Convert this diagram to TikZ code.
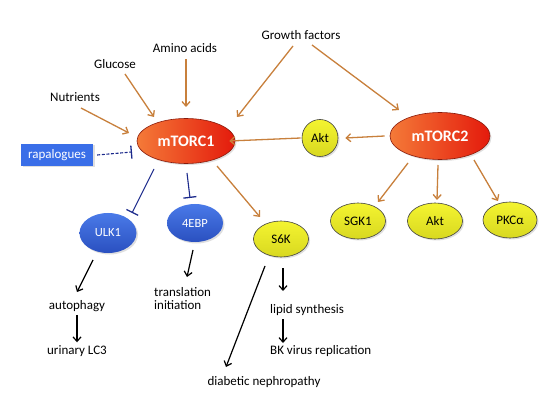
\documentclass[tikz,border=0pt]{standalone}
\usepackage{fontspec}
\setmainfont{Carlito}
\usetikzlibrary{shapes.geometric,arrows.meta,shadows}
\definecolor{arr}{HTML}{C8803C}
\definecolor{inh}{HTML}{1C2A8C}
\definecolor{redL}{HTML}{F47A38}
\definecolor{redR}{HTML}{E41A0C}
\definecolor{redB}{HTML}{8A1A0A}
\definecolor{yelT}{HTML}{F4F430}
\definecolor{yelB}{HTML}{D8D820}
\definecolor{bluT}{HTML}{4A7AE8}
\definecolor{bluB}{HTML}{2A50C0}
\definecolor{boxb}{HTML}{3A6EE8}
\tikzset{
  lbl/.style={font=\fontsize{13}{15}\selectfont, inner sep=1pt},
  lbll/.style={lbl, anchor=west, align=left},
  mtor/.style={ellipse, draw=redB, line width=0.6pt, left color=redL, right color=redR,
     text=white, font=\bfseries\fontsize{16}{18}\selectfont, inner sep=0pt,
     drop shadow={shadow xshift=1.5pt, shadow yshift=-1.5pt, opacity=0.25}},
  yel/.style={ellipse, draw=black!75, line width=0.6pt, top color=yelT, bottom color=yelB,
     font=\fontsize{13}{15}\selectfont, inner sep=0pt,
     drop shadow={shadow xshift=1.5pt, shadow yshift=-1.5pt, opacity=0.25}},
  blu/.style={ellipse, draw=none, top color=bluT, bottom color=bluB, text=white,
     font=\fontsize{12.5}{14}\selectfont, inner sep=0pt,
     drop shadow={shadow xshift=1.5pt, shadow yshift=-1.5pt, opacity=0.25}},
  oarr/.style={draw=arr, line width=1.3pt, -{Straight Barb[length=4.5pt,width=8pt]}},
  barr/.style={draw=black, line width=1.2pt, -{Straight Barb[length=4.5pt,width=8pt]}},
  inhib/.style={draw=inh, line width=1.1pt, -{Bar[width=13pt,line width=1.3pt]}},
}
\begin{document}
\begin{tikzpicture}[x=1pt,y=-1pt]
\useasboundingbox[fill=white] (0,0) rectangle (550,412);
% main complexes
\node[mtor, minimum width=98pt, minimum height=45pt] (m1) at (186,141) {mTORC1};
\node[mtor, minimum width=100pt, minimum height=47pt] (m2) at (440,136) {mTORC2};
\node[yel, minimum width=36pt, minimum height=37pt] (akt1) at (320,138) {Akt};
% inputs
\node[lbl] (nut) at (75,97) {Nutrients};
\node[lbl] (glu) at (115,64) {Glucose};
\node[lbl] (ami) at (185,48) {Amino acids};
\node[lbl] (gf) at (301,35) {Growth factors};
% rapalogues
\node[fill=boxb, text=white, font=\fontsize{13}{15}\selectfont, minimum width=72pt, minimum height=22pt, inner sep=0pt,
  drop shadow={shadow xshift=1.5pt, shadow yshift=-1.5pt, opacity=0.25}] (rap) at (57,155) {rapalogues};
% downstream
\node[blu, minimum width=57pt, minimum height=40pt] (ulk) at (108,233) {ULK1};
\node[blu, minimum width=56pt, minimum height=38pt] (ebp) at (195,223) {4EBP};
\node[yel, minimum width=55pt, minimum height=36pt] (s6k) at (281,239) {S6K};
\node[yel, minimum width=55pt, minimum height=36pt] (sgk) at (358,221) {SGK1};
\node[yel, minimum width=55pt, minimum height=36pt] (akt2) at (435,221) {Akt};
\node[yel, minimum width=54pt, minimum height=36pt] (pkc) at (510,220) {PKCα};
% outputs
\node[lbl] (aut) at (77,306) {autophagy};
\node[lbl] (lc3) at (77,351) {urinary LC3};
\node[lbll] (tra) at (153,299) {translation\\[-2pt]initiation};
\node[lbl] (dia) at (264,382) {diabetic nephropathy};
\node[lbll] (lip) at (269,310) {lipid synthesis};
\node[lbll] (bk) at (269,351) {BK virus replication};
% coordinates for connector ends
\coordinate (nutS) at (81,108); \coordinate (nutE) at (129,133);
\coordinate (gluS) at (125,74); \coordinate (gluE) at (154,117);
\coordinate (amiS) at (186,59); \coordinate (amiE) at (186,107);
\coordinate (gfS1) at (293,46); \coordinate (gfE1) at (237,117);
\coordinate (gfS2) at (312,45); \coordinate (gfE2) at (399,110);
% orange arrows
\draw[oarr] (nutS) -- (nutE);
\draw[oarr] (gluS) -- (gluE);
\draw[oarr] (amiS) -- (amiE);
\draw[oarr] (gfS1) -- (gfE1);
\draw[oarr] (gfS2) -- (gfE2);
\draw[oarr] ([xshift=-5pt]m2.west) -- ([xshift=7pt]akt1.east);
\draw[oarr] ([xshift=-1pt]akt1.west) -- ([xshift=-6pt]m1.east);
\coordinate (s6S) at (217,166); \coordinate (s6E) at (260,217);
\draw[oarr] (s6S) -- (s6E);
\coordinate (sgS) at (408,163); \coordinate (sgE) at (378,202);
\coordinate (akS) at (438,165); \coordinate (akE) at (437,200);
\coordinate (pkS) at (474,160); \coordinate (pkE) at (498,201);
\draw[oarr] (sgS) -- (sgE);
\draw[oarr] (akS) -- (akE);
\draw[oarr] (pkS) -- (pkE);
% inhibitions
\coordinate (rapE) at (132,152);
\draw[inhib, dashed, dash pattern=on 3pt off 1.6pt] ([xshift=4pt]rap.east) -- (rapE);
\coordinate (ulS) at (154,169); \coordinate (ulE) at (132,213);
\coordinate (ebS) at (187,173); \coordinate (ebE) at (190,198);
\draw[inhib] (ulS) -- (ulE);
\draw[inhib] (ebS) -- (ebE);
% black arrows
\coordinate (a1S) at (93,260); \coordinate (a1E) at (77,292);
\draw[barr] (a1S) -- (a1E);
\draw[barr] ([yshift=-2pt]aut.south) -- ([yshift=2pt]lc3.north);
\coordinate (a3S) at (193,250); \coordinate (a3E) at (187,277);
\draw[barr] (a3S) -- (a3E);
\coordinate (a4S) at (265,266); \coordinate (a4E) at (226,367);
\draw[barr] (a4S) -- (a4E);
\coordinate (a5S) at (283,268); \coordinate (a5E) at (283,291);
\draw[barr] (a5S) -- (a5E);
\coordinate (a6S) at (283,319); \coordinate (a6E) at (283,343);
\draw[barr] (a6S) -- (a6E);
\end{tikzpicture}
\end{document}
